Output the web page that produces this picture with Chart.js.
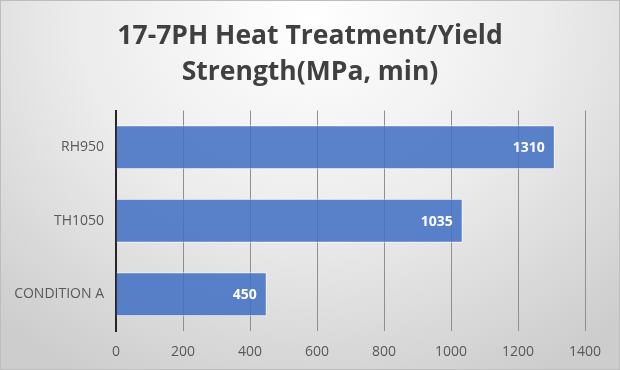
<!DOCTYPE html>
<html>
<head>
<meta charset="utf-8">
<script src="https://cdn.jsdelivr.net/npm/chart.js@4"></script>
<style>
  html, body { margin: 0; padding: 0; }
  body { width: 620px; height: 370px; overflow: hidden; }
  #wrap {
    width: 618px; height: 368px;
    border: 1px solid #bdbdbd;
    background: radial-gradient(ellipse 75% 110% at 50% 5%, #ffffff 0%, #ececec 50%, #cdcdcd 100%);
  }
</style>
</head>
<body>
<div id="wrap"><canvas id="chart" width="618" height="368"></canvas></div>
<script>
const categories = ['RH950', 'TH1050', 'CONDITION A'];
const yieldValues = [1310, 1035, 450];
const xTicks = [0, 200, 400, 600, 800, 1000, 1200, 1400];
const titleLines = ['17-7PH Heat Treatment/Yield', 'Strength(MPa, min)'];

// etiquettes de valeur a l'interieur du bout de barre
const barLabels = {
  id: 'barLabels',
  afterDatasetsDraw(chart) {
    const ctx = chart.ctx;
    const meta = chart.getDatasetMeta(0);
    ctx.save();
    ctx.fillStyle = '#ffffff';
    ctx.font = 'bold 14px "Open Sans", sans-serif';
    ctx.textAlign = 'right';
    ctx.textBaseline = 'middle';
    meta.data.forEach((bar, i) => {
      ctx.fillText(String(yieldValues[i]), bar.x - 10, bar.y + 1);
    });
    ctx.restore();
  }
};

new Chart(document.getElementById('chart'), {
  type: 'bar',
  data: {
    labels: categories,
    datasets: [{
      data: yieldValues,
      backgroundColor: 'rgba(68, 114, 196, 0.88)',
      borderColor: 'rgba(255, 255, 255, 0.7)',
      borderWidth: 1,
      categoryPercentage: 1,
      barPercentage: 0.6
    }]
  },
  options: {
    indexAxis: 'y',
    responsive: false,
    animation: false,
    layout: { padding: 0 },
    plugins: {
      legend: { display: false },
      tooltip: { enabled: false },
      title: {
        display: true,
        text: titleLines,
        color: '#404040',
        font: { family: '"Open Sans", sans-serif', size: 26.5, weight: 'bold', lineHeight: 1.35 },
        padding: { top: 18, bottom: 20 }
      }
    },
    scales: {
      x: {
        min: 0,
        max: 1400,
        afterBuildTicks: s => { s.ticks = xTicks.map(v => ({ value: v })); },
        afterFit: s => { s.height = 38; },
        grid: { color: '#8f8f8f', lineWidth: 1, drawTicks: false },
        border: { display: false },
        ticks: {
          color: '#595959',
          font: { family: '"Open Sans", sans-serif', size: 14 },
          padding: 13,
          callback: v => String(v)
        }
      },
      y: {
        afterFit: s => { s.width = 115; },
        grid: { display: false, drawTicks: false },
        border: { display: true, color: '#262626', width: 2 },
        ticks: { color: '#595959', font: { family: '"Open Sans", sans-serif', size: 14 }, padding: 12 }
      },
      // axe vide a droite, juste pour la marge
      yRight: {
        type: 'category',
        position: 'right',
        afterFit: s => { s.width = 34; },
        grid: { display: false, drawTicks: false },
        border: { display: false },
        ticks: { display: false }
      }
    }
  },
  plugins: [barLabels]
});
</script>
</body>
</html>
